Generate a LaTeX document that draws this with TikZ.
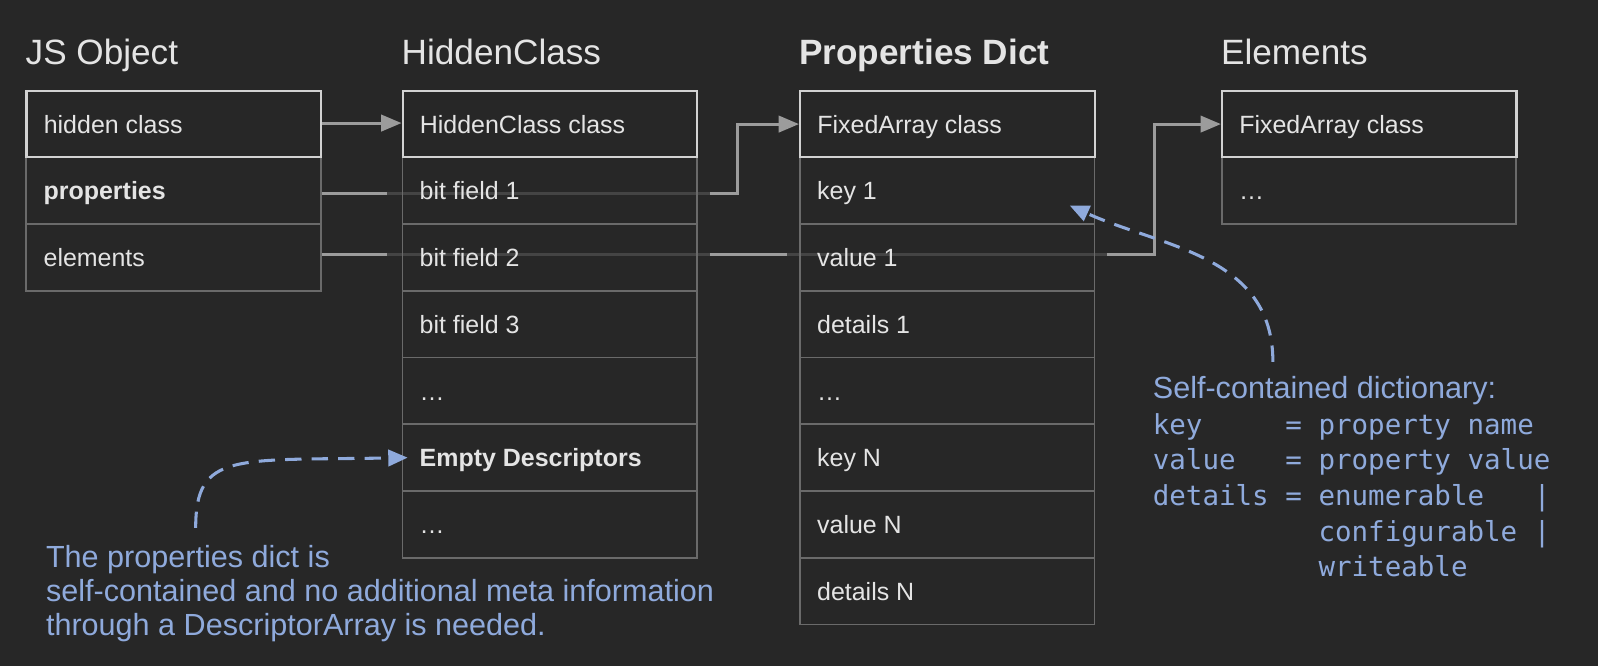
\documentclass[tikz,border=0pt]{standalone}
\usepackage{fontspec}
\setmainfont{Liberation Sans}
\setmonofont{DejaVu Sans Mono}
\usetikzlibrary{arrows.meta}
\definecolor{bgcol}{HTML}{272727}
\definecolor{rowline}{HTML}{6A6A6A}
\definecolor{headline}{HTML}{D2D2D2}
\definecolor{txtcol}{HTML}{E4E4E4}
\definecolor{linkcol}{HTML}{9C9C9C}
\definecolor{notecol}{HTML}{8FAADC}
\pgfdeclarelayer{back}
\pgfdeclarelayer{links}
\pgfsetlayers{back,links,main}
\tikzset{
  plainspace/.style={execute at begin node={\spaceskip=0pt\xspaceskip=0pt\relax}},
  row/.style={draw=rowline, line width=1.6pt, anchor=north west, minimum height=65.5pt,
    text width=255pt, inner xsep=17pt, inner ysep=0pt, align=left, text=txtcol,
    text height=18pt, text depth=0pt, plainspace,
    font=\fontsize{24.5}{29}\selectfont},
  head/.style={row, draw=headline, line width=2pt},
  title/.style={anchor=base west, inner sep=0pt, text=txtcol, font=\fontsize{34.5}{40}\selectfont},
  link/.style={draw=linkcol, line width=3pt, -{Triangle[length=20pt,width=16pt]}},
  hint/.style={draw=notecol, line width=3pt, dash pattern=on 16pt off 10pt,
    -{Triangle[length=19pt,width=16pt]}},
  note/.style={anchor=north west, inner sep=0pt, align=left, text=notecol, plainspace}
}
\begin{document}
\begin{tikzpicture}[x=1pt,y=-1pt]
  \useasboundingbox (0,0) rectangle (1568,653.5);
  \begin{pgfonlayer}{back}
    \fill[bgcol] (0,0) rectangle (1568,653.5);
  \end{pgfonlayer}
  % column titles
  \node[title] (jstitle) at (25,63) {JS Object};
  \node[title] (hctitle) at (394,63) {HiddenClass};
  \node[title] (pdtitle) at (784,63) {\bfseries Properties Dict};
  \node[title] (eltitle) at (1198,63) {Elements};
  % JS object
  \foreach \t [count=\i] in {{\textbf{properties}},elements}
    \node[row] (js\i) at (25,88+\i*65.5) {\t};
  \node[head] (js0) at (25,88) {hidden class};
  % hidden class
  \foreach \t [count=\i] in {bit field 1,bit field 2,bit field 3,\ldots,{\textbf{Empty Descriptors}},\ldots}
    \node[row] (hc\i) at (394,88+\i*65.5) {\t};
  \node[head] (hc0) at (394,88) {HiddenClass class};
  % properties dict
  \foreach \t [count=\i] in {key 1,value 1,details 1,\ldots,key N,value N,details N}
    \node[row] (pd\i) at (784,88+\i*65.5) {\t};
  \node[head] (pd0) at (784,88) {FixedArray class};
  % elements
  \node[row] (el1) at (1198,153.5) {\ldots};
  \node[head] (el0) at (1198,88) {FixedArray class};
  % pointers
  \begin{pgfonlayer}{links}
    \draw[link] ([yshift=1]js0.east) -- ([yshift=1]hc0.west);
    \draw[link] ([yshift=-2.5]js1.east) -| ([xshift=39]hc0.east) -- (pd0.west);
    \draw[link] ([yshift=2.5]js2.east) -| ([xshift=58]pd0.east) -- (el0.west);
    \fill[bgcol,opacity=.75] ([xshift=-14]hc1.north west) rectangle ([xshift=12]hc6.south east);
    \fill[bgcol,opacity=.75] ([xshift=-12]pd1.north west) rectangle ([xshift=12]pd7.south east);
  \end{pgfonlayer}
  % notes
  \node[note, text width=520pt, font=\fontsize{30}{35}\selectfont] (dictnote) at (1131,369)
    {Self-contained dictionary:\\
     \ttfamily\fontsize{27}{35}\selectfont
     key\ \ \ \ \ = property name\\
     value\ \ \ = property value\\
     details = enumerable\ \ \ |\\
     \phantom{details = }configurable |\\
     \phantom{details = }writeable};
  \node[note, text width=700pt, font=\fontsize{30}{33.5}\selectfont] (descnote) at (45,535)
    {The properties dict is\\
     self-contained and no additional meta information\\
     through a DescriptorArray is needed.};
  \draw[hint] ([xshift=118,yshift=14]dictnote.north west)
    .. controls +(0,-105) and +(90,41) .. ([shift={(-25,-19)}]pd1.south east);
  \draw[hint] ([xshift=147,yshift=17]descnote.north west)
    .. controls +(0,-75) and +(-170,3) .. ([xshift=6]hc5.west);
\end{tikzpicture}
\end{document}
